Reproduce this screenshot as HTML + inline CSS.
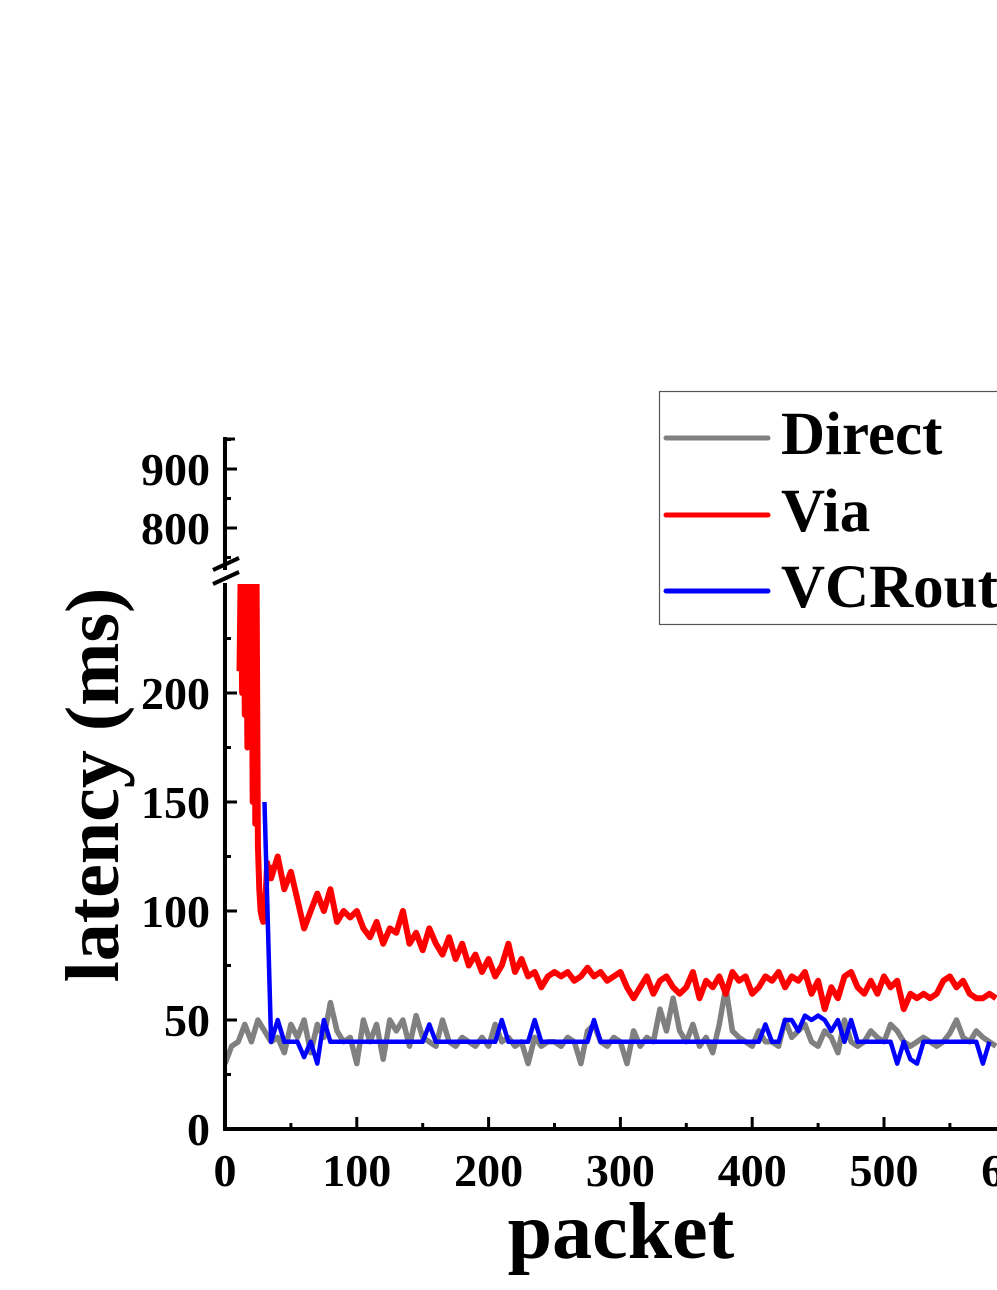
<!DOCTYPE html>
<html><head><meta charset="utf-8"><style>
html,body{margin:0;padding:0;background:#fff;}
svg{display:block;font-family:"Liberation Serif",serif;font-weight:bold;}
</style></head><body>
<svg id="chart" width="997" height="1290" viewBox="0 0 997 1290">
<defs><clipPath id="plotclip"><rect x="225" y="584" width="772" height="560"/></clipPath></defs>
<g id="series" clip-path="url(#plotclip)"></g>
<g id="axes"></g>
<g>
<rect x="659.5" y="391.5" width="360" height="233" fill="#fff" stroke="#555" stroke-width="1.2"/>
<line x1="666" y1="438" x2="768" y2="438" stroke="#808080" stroke-width="5" stroke-linecap="round"/>
<text x="781" y="454" font-size="61">Direct</text>
<line x1="666" y1="515" x2="768" y2="515" stroke="#ff0000" stroke-width="5" stroke-linecap="round"/>
<text x="781" y="531" font-size="61">Via</text>
<line x1="666" y1="591" x2="768" y2="591" stroke="#0000ff" stroke-width="5" stroke-linecap="round"/>
<text x="781" y="607" font-size="61">VCRouter</text>
</g>
<text x="0" y="0" font-size="76" text-anchor="middle" transform="translate(118,785) rotate(-90)">latency (ms)</text>
<text x="621" y="1258" font-size="80" text-anchor="middle">packet</text>
</svg>
<script>
// data
const directStart = 0, directStep = 5;
const directValues = [30,38,40,48,40,50,45,40,42,35,48,42,50,35,48,42,58,45,40,42,30,50,40,48,32,50,45,50,38,52,42,40,38,50,40,38,42,40,38,42,38,48,40,42,38,40,30,42,38,40,40,38,42,40,30,45,48,40,38,42,40,30,45,38,42,40,55,45,60,45,40,48,38,42,35,48,65,45,42,40,38,45,40,40,38,50,42,45,48,40,38,45,42,35,50,40,38,40,45,42,40,48,45,40,38,40,42,40,38,40,44,50,42,40,45,42,40,38];
const viaEarlyStart = 11, viaEarlyStep = 1;
const viaEarlyValues = [210,260,200,260,190,260,175,260,180,260,150,260,140,250,130,110,100,97,95,98,110,122,115,120];
const viaStart = 35, viaStep = 5;
const viaValues = [115,125,110,118,105,92,100,108,100,110,95,100,97,100,92,88,95,85,92,90,100,85,90,82,92,85,80,88,78,85,75,80,72,78,70,75,85,72,78,70,72,65,70,72,70,72,68,70,74,70,72,68,70,72,65,60,65,70,62,68,70,65,62,65,72,60,68,65,70,62,72,68,70,62,65,70,68,72,65,70,68,72,62,68,55,65,60,70,72,65,62,68,62,70,65,68,55,62,60,62,60,62,68,70,65,68,62,60,60,62,60];
const vcrStart = 30, vcrStep = 5;
const vcrValues = [150,40,50,40,40,40,33,40,30,50,40,40,40,40,40,40,40,40,40,40,40,40,40,40,40,48,40,40,40,40,40,40,40,40,40,40,50,40,40,40,40,50,40,40,40,40,40,40,40,40,50,40,40,40,40,40,40,40,40,40,40,40,40,40,40,40,40,40,40,40,40,40,40,40,40,40,48,40,40,50,50,45,52,50,52,50,45,50,40,50,40,40,40,40,40,40,30,40,32,30,40,40,40,40,40,40,40,40,40,30,40];
const xTicks = [0,100,200,300,400,500,600];
const yTicksLow = [0,50,100,150,200];
const yTicksHigh = [800,900];

const NS = "http://www.w3.org/2000/svg";
const X0 = 225, XS = 1.318;
const xs = p => X0 + p*XS;
const yLow = v => 1129 - v*2.18;
const yHigh = v => 528 - (v-800)*0.59;

function mk(tag, attrs, parent){const e=document.createElementNS(NS,tag);for(const k in attrs)e.setAttribute(k,attrs[k]);parent.appendChild(e);return e;}
const series=document.getElementById('series'), axes=document.getElementById('axes');

function pathFor(start, step, vals){return vals.map((v,i)=>(i?'L':'M')+xs(start+i*step).toFixed(1)+' '+yLow(v).toFixed(1)).join(' ');}
let p;
p=mk('path',{d:pathFor(directStart,directStep,directValues),fill:'none',stroke:'#808080','stroke-width':5.5,'stroke-linejoin':'round'},series);


p=mk('path',{d:pathFor(viaEarlyStart,viaEarlyStep,viaEarlyValues)+' '+pathFor(viaStart,viaStep,viaValues).replace(/^M/,'L'),fill:'none',stroke:'#ff0000','stroke-width':6,'stroke-linejoin':'round'},series);


p=mk('path',{d:pathFor(vcrStart,vcrStep,vcrValues),fill:'none',stroke:'#0000ff','stroke-width':4.5,'stroke-linejoin':'round'},series);



let a;
a=mk('line',{x1:X0,y1:583,x2:X0,y2:1131,stroke:'#000','stroke-width':4},axes);


a=mk('line',{x1:X0,y1:437,x2:X0,y2:570,stroke:'#000','stroke-width':4},axes);


mk('line',{x1:X0,y1:439,x2:X0+10,y2:439,stroke:'#000','stroke-width':3},axes);
a=mk('line',{x1:X0-2,y1:1129,x2:997,y2:1129,stroke:'#000','stroke-width':4},axes);


for(const dy of [0,14]){a=mk('line',{x1:213,y1:578+dy-8,x2:239,y2:578+dy-20,stroke:'#000','stroke-width':4},axes);

}
for(let v=0;v<=250;v+=25){const y=yLow(v);if(y<585)continue;mk('line',{x1:X0,y1:y,x2:X0+(v%50===0?12:6),y2:y,stroke:'#000','stroke-width':3},axes);}
yTicksLow.forEach(v=>{const t=mk('text',{x:210,y:yLow(v)+16,'font-size':46,'text-anchor':'end'},axes);t.textContent=v;

});
for(let v=750;v<=950;v+=50){const y=yHigh(v);if(y<437||y>568)continue;mk('line',{x1:X0,y1:y,x2:X0+(v%100===0?12:6),y2:y,stroke:'#000','stroke-width':3},axes);}
yTicksHigh.forEach(v=>{const t=mk('text',{x:210,y:yHigh(v)+16,'font-size':46,'text-anchor':'end'},axes);t.textContent=v;

});
for(let v=0;v<=600;v+=50){const x=xs(v);if(x>997)continue;mk('line',{x1:x,y1:1129,x2:x,y2:1129-(v%100===0?12:6),stroke:'#000','stroke-width':3},axes);}
xTicks.forEach(v=>{const t=mk('text',{x:xs(v),y:1186,'font-size':46,'text-anchor':'middle'},axes);t.textContent=v;

});
</script>
</body></html>
